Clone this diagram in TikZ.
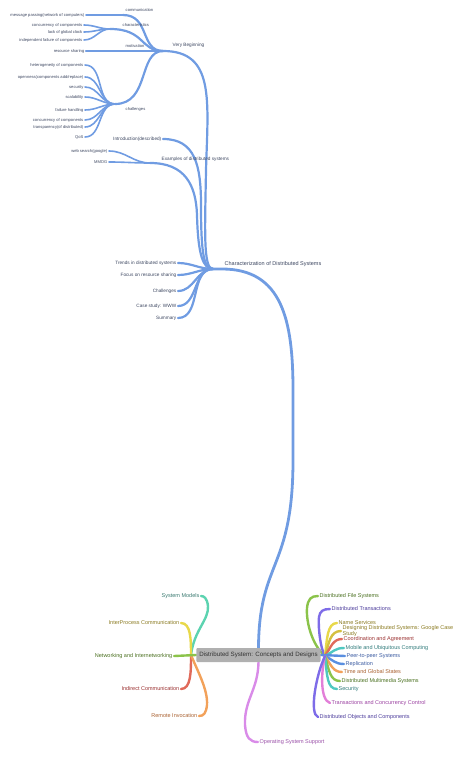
\documentclass[tikz,border=0pt]{standalone}
\usepackage{fontspec}
\setmainfont{Liberation Sans}
\usetikzlibrary{backgrounds}

\definecolor{bluebr}{RGB}{112,156,226}
\definecolor{inkb}{RGB}{60,70,96}
\definecolor{rootgray}{RGB}{176,176,176}
\definecolor{tealbr}{RGB}{92,211,176}   \definecolor{tealtx}{RGB}{58,122,112}
\definecolor{yelbr}{RGB}{232,216,74}    \definecolor{yeltx}{RGB}{138,122,32}
\definecolor{olvbr}{RGB}{212,192,64}
\definecolor{grnbr}{RGB}{139,195,74}    \definecolor{grntx}{RGB}{74,112,32}
\definecolor{redbr}{RGB}{224,106,90}    \definecolor{redtx}{RGB}{154,48,48}
\definecolor{orgbr}{RGB}{242,161,90}    \definecolor{orgtx}{RGB}{168,96,48}
\definecolor{viobr}{RGB}{217,139,232}   \definecolor{viotx}{RGB}{154,80,168}
\definecolor{purbr}{RGB}{126,108,232}   \definecolor{purtx}{RGB}{74,58,154}
\definecolor{cyanbr}{RGB}{79,200,192}   \definecolor{cyantx}{RGB}{47,122,122}
\definecolor{p2pbr}{RGB}{90,143,224}    \definecolor{p2ptx}{RGB}{58,90,160}
\definecolor{pinkbr}{RGB}{226,127,216}  \definecolor{pinktx}{RGB}{154,64,160}

\tikzset{
  lf/.style={font=\fontsize{4.1}{4.5}\selectfont, text=inkb, inner sep=1.5pt},
  sub/.style={font=\fontsize{4.7}{5.2}\selectfont, text=inkb, inner sep=1.5pt},
  top/.style={font=\fontsize{5.5}{6}\selectfont, inner sep=1.5pt},
  rootbox/.style={fill=rootgray, text=black!80, font=\fontsize{6.2}{7}\selectfont,
    inner xsep=3pt, minimum height=14pt, rounded corners=1pt},
  bmain/.style={draw=bluebr, line width=2.8pt, line cap=round},
  bb/.style={draw=bluebr, line width=2.2pt, line cap=round},
  bt/.style={draw=bluebr, line width=1.6pt, line cap=round},
  br/.style={line width=2.4pt, line cap=round}
}

\begin{document}
\begin{tikzpicture}[x=1pt,y=-1pt]
\useasboundingbox (0,0) rectangle (474,757);

% hubs
\coordinate (vbhub) at (163,51);
\coordinate (commhub) at (123,15);
\coordinate (charhub) at (110,29);
\coordinate (chalhub) at (115,104);
\coordinate (exhub) at (150,163);
\coordinate (chzhub) at (213,269);
\coordinate (lhub) at (191,655);
\coordinate (rhub) at (325,656);

% very beginning
\node[sub, anchor=west] (vb) at (171,45) {Very Beginning};
\node[lf, anchor=west] (comm) at (124,10) {communication};
\node[lf, anchor=west] (charc) at (121,25) {characteristics};
\node[lf, anchor=west] (motiv) at (124,46) {motivation};
\node[lf, anchor=west] (chal) at (124,109) {challenges};
\node[lf, anchor=east] (msg) at (86,15) {message passing(network of computers)};
\node[lf, anchor=east] (conc1) at (84,25) {concurrency of components};
\node[lf, anchor=east] (clock) at (84,32) {lack of global clock};
\node[lf, anchor=east] (indep) at (84,40) {independent failure of components};
\node[lf, anchor=east] (rshare) at (86,51) {resource sharing};
\node[lf, anchor=east] (het) at (85,65) {heterogeneity of components};
\node[lf, anchor=east] (open) at (85,77) {openness(components add/replace)};
\node[lf, anchor=east] (secu) at (85,87) {security};
\node[lf, anchor=east] (scal) at (85,97) {scalability};
\node[lf, anchor=east] (fail) at (85,110) {failure handling};
\node[lf, anchor=east] (conc2) at (85,120) {concurrency of components};
\node[lf, anchor=east] (transp) at (85,127) {transparency(of distributed)};
\node[lf, anchor=east] (qos) at (85,137) {QoS};

% examples, introduction
\node[sub, anchor=east] (intro) at (163,139) {Introduction(described)};
\node[sub, anchor=west] (exam) at (160,159) {Examples of distributed systems};
\node[lf, anchor=east] (web) at (109,151) {web search(google)};
\node[lf, anchor=east] (mmog) at (109,162) {MMOG};

% characterization
\node[top, text=inkb, anchor=west] (chz) at (223,264) {Characterization of Distributed Systems};
\node[sub, anchor=east] (trend) at (178,263) {Trends in distributed systems};
\node[sub, anchor=east] (focus) at (178,275) {Focus on resource sharing};
\node[sub, anchor=east] (chall) at (178,291) {Challenges};
\node[sub, anchor=east] (www) at (178,306) {Case study: WWW};
\node[sub, anchor=east] (summ) at (178,318) {Summary};

% root and its children
\node[rootbox] (root) at (258.5,655) {Distributed System: Concepts and Designs};
\node[top, text=tealtx, anchor=east] (sysm) at (201,596) {System Models};
\node[top, text=yeltx, anchor=east] (ipc) at (181,623) {InterProcess Communication};
\node[top, text=grntx, anchor=east] (netw) at (174,656) {Networking and Internetworking};
\node[top, text=redtx, anchor=east] (indc) at (181,689) {Indirect Communication};
\node[top, text=orgtx, anchor=east] (rinv) at (199,716) {Remote Invocation};
\node[top, text=viotx, anchor=west] (oss) at (258,742) {Operating System Support};

\node[top, text=grntx, anchor=west] (dfs) at (318,596) {Distributed File Systems};
\node[top, text=purtx, anchor=west] (dt) at (330,609) {Distributed Transactions};
\node[top, text=yeltx, anchor=west] (ns) at (337,623) {Name Services};
\node[top, text=yeltx, anchor=west, align=left] (gcs) at (341,631)
  {Designing Distributed Systems: Google Case\\Study};
\node[top, text=redtx, anchor=west] (ca) at (342,639) {Coordination and Agreement};
\node[top, text=cyantx, anchor=west] (muc) at (344,648) {Mobile and Ubiquitous Computing};
\node[top, text=p2ptx, anchor=west] (p2p) at (345,656) {Peer-to-peer Systems};
\node[top, text=p2ptx, anchor=west] (rep) at (344,664) {Replication};
\node[top, text=orgtx, anchor=west] (tgs) at (342,672) {Time and Global States};
\node[top, text=grntx, anchor=west] (dms) at (340,681) {Distributed Multimedia Systems};
\node[top, text=cyantx, anchor=west] (sec) at (337,689) {Security};
\node[top, text=pinktx, anchor=west] (tcc) at (330,703) {Transactions and Concurrency Control};
\node[top, text=purtx, anchor=west] (doc) at (318,717) {Distributed Objects and Components};

\begin{scope}[on background layer]
% blue half
\draw[bt] (msg.east) -- (commhub);
\draw[bb] (commhub) .. controls (150,15) and (140,51) .. (vbhub);
\foreach \n in {conc1,clock,indep}
  \draw[bt] (\n.east) to[out=0,in=180] (charhub);
\draw[bb] (charhub) .. controls (145,29) and (140,51) .. (vbhub);
\draw[bb] (rshare.east) -- (vbhub);
\foreach \n in {het,open,secu,scal,fail,conc2,transp,qos}
  \draw[bt] (\n.east) to[out=0,in=180] (chalhub);
\draw[bb] (chalhub) .. controls (150,104) and (138,51) .. (vbhub);
\draw[bb] (vbhub) .. controls (215,51) and (208,100) .. (206,170)
  .. controls (205,230) and (203,269) .. (chzhub);
\draw[bt] (web.east) to[out=0,in=180] (exhub);
\draw[bt] (mmog.east) to[out=0,in=180] (exhub);
\draw[bb] (exhub) .. controls (185,163) and (196,185) .. (197,215)
  .. controls (198,255) and (203,269) .. (chzhub);
\draw[bb] (intro.east) .. controls (195,139) and (201,165) .. (201,205)
  .. controls (201,255) and (204,269) .. (chzhub);
\foreach \n in {trend,focus,chall,www,summ}
  \draw[bb] (\n.east) to[out=0,in=180] (chzhub);
\draw[bmain] (chzhub) -- (222,269) .. controls (282,269) and (293,320) .. (293,390)
  -- (293,460) .. controls (293,570) and (259,560) .. (root.north);

% left of root
\draw[br, tealbr] (lhub) .. controls (194,630) and (209,620) .. (208,606)
  .. controls (207,598) and (204,596) .. (sysm.east);
\draw[br, yelbr] (lhub) .. controls (191,640) and (191,623) .. (ipc.east);
\draw[br, redbr] (lhub) .. controls (191,672) and (191,689) .. (indc.east);
\draw[br, orgbr] (lhub) .. controls (198,672) and (208,690) .. (207,705)
  .. controls (206,713) and (204,716) .. (rinv.east);
\draw[br, grnbr] (netw.east) -- (root.west);
\draw[br, viobr] (root.south) .. controls (258,690) and (244,700) .. (245,725)
  .. controls (246,738) and (250,742) .. (oss.west);

% right of root
\draw[br, grnbr] (rhub) .. controls (312,645) and (306,622) .. (307,608)
  .. controls (308,599) and (311,596) .. (dfs.west);
\draw[br, purbr] (rhub) .. controls (320,648) and (318,625) .. (319,617)
  .. controls (320,611) and (323,609) .. (dt.west);
\draw[br, yelbr] (rhub) .. controls (327,640) and (327,623) .. (ns.west);
\draw[br, olvbr] (rhub) .. controls (329,643) and (330,631) .. (gcs.west);
\draw[br, redbr] (rhub) .. controls (331,647) and (333,639) .. (ca.west);
\draw[br, cyanbr] (rhub) .. controls (333,652) and (335,648) .. (muc.west);
\draw[br, p2pbr] (root.east) -- (p2p.west);
\draw[br, p2pbr] (rhub) .. controls (333,660) and (335,664) .. (rep.west);
\draw[br, orgbr] (rhub) .. controls (331,665) and (333,672) .. (tgs.west);
\draw[br, grnbr] (rhub) .. controls (329,670) and (330,681) .. (dms.west);
\draw[br, cyanbr] (rhub) .. controls (327,675) and (327,689) .. (sec.west);
\draw[br, pinkbr] (rhub) .. controls (321,672) and (320,700) .. (tcc.west);
\draw[br, purbr] (rhub) .. controls (316,675) and (309,714) .. (doc.west);
\end{scope}
\end{tikzpicture}
\end{document}
